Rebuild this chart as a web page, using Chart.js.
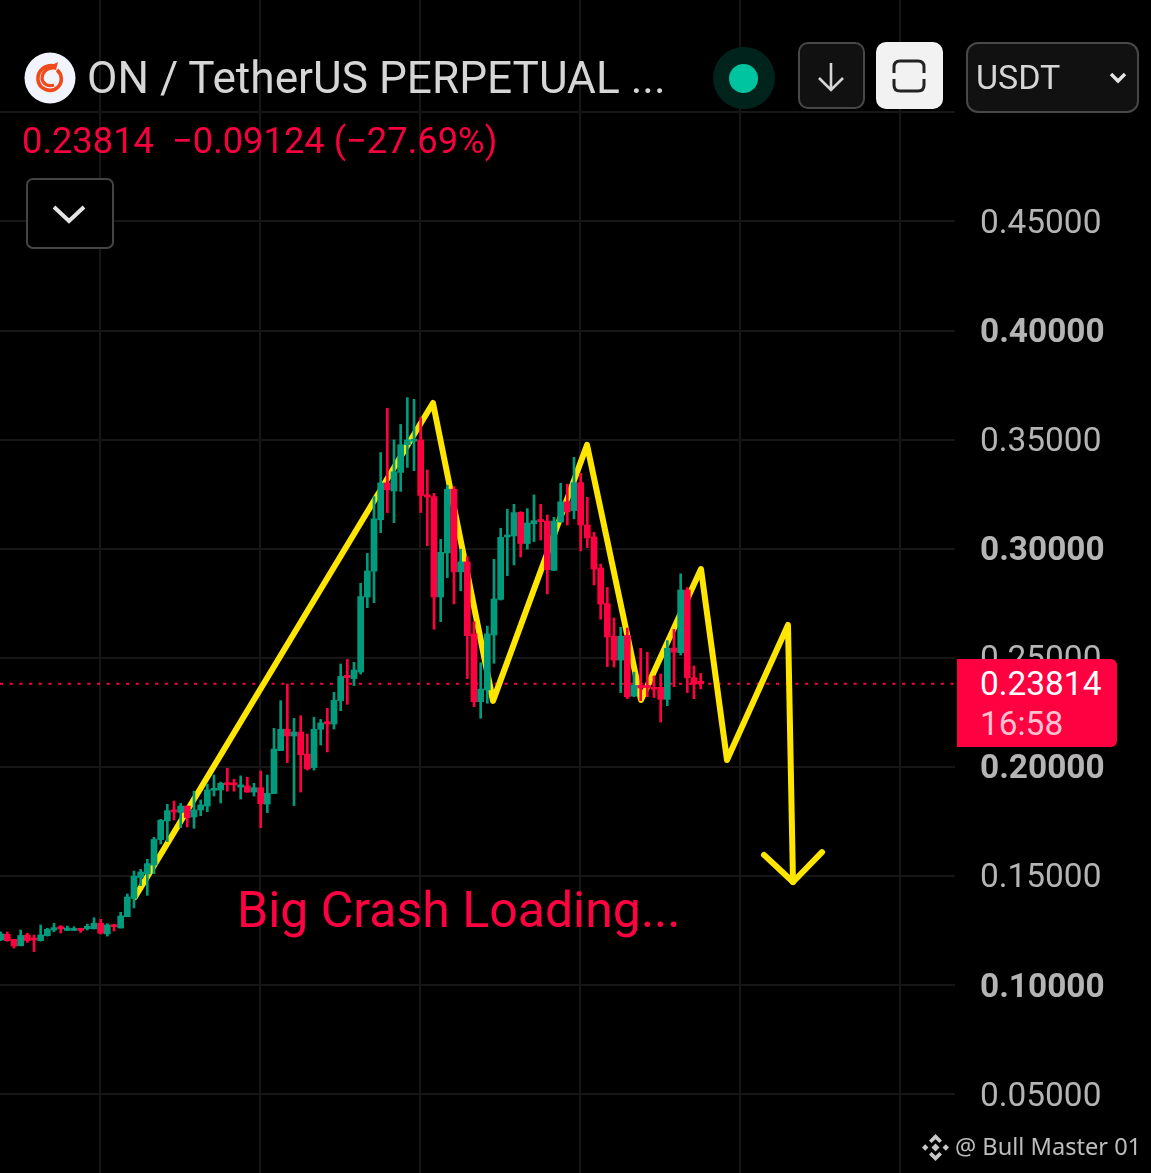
<!DOCTYPE html>
<html>
<head>
<meta charset="utf-8">
<title>ON / TetherUS PERPETUAL</title>
<script src="https://cdn.jsdelivr.net/npm/chart.js@4/dist/chart.umd.min.js"></script>
<style>
    html, body { margin: 0; padding: 0; background: #000; width: 1151px; height: 1173px; overflow: hidden; }
    body { position: relative; font-family: Roboto, sans-serif; }
    canvas { position: absolute; left: 0; top: 0; }
    .abs { position: absolute; white-space: pre; line-height: 1; }
    .box { position: absolute; box-sizing: border-box; }
</style>
</head>
<body>
<canvas id="candleChart" width="1151" height="1173"></canvas>

<svg class="box" style="left:24px;top:52px" width="52" height="52" viewBox="0 0 52 52">
    <circle cx="26" cy="26" r="25.5" fill="#f1f4fd"/>
    <path d="M31 14 C21 12 13 19 14 28 C15 37 27 42 34 35 C39 30 38 22 33 18" fill="none" stroke="#f04a1c" stroke-width="3.6"/>
    <path d="M31 16 C22 15 18 21 18 27 C19 32 24 35 30 33" fill="none" stroke="#f04a1c" stroke-width="3.2"/>
    <path d="M24 15 L34 10 L32 18 Z" fill="#f04a1c"/>
</svg>
<div class="abs" id="title" style="left:87px;top:56px;font-size:44.2px;color:#d6d6d6">ON / TetherUS PERPETUAL ...</div>
<div class="abs" id="change" style="left:22px;top:123px;font-size:36.3px;color:#f7003e">0.23814  −0.09124 (−27.69%)</div>

<div class="box" style="left:26px;top:178px;width:88px;height:71px;border:2px solid #444;border-radius:7px;background:#000"></div>
<svg class="box" style="left:50px;top:200px" width="40" height="28" viewBox="0 0 40 28">
    <path d="M4 7 L19 21 L34 7" fill="none" stroke="#e4e4e4" stroke-width="4"/>
</svg>

<div class="box" style="left:713px;top:47px;width:62px;height:62px;border-radius:50%;background:#00241c"></div>
<div class="box" style="left:729px;top:64px;width:29px;height:29px;border-radius:50%;background:#00c4a0"></div>

<div class="box" style="left:798px;top:42px;width:67px;height:67px;border:2px solid #484848;border-radius:10px;background:#111"></div>
<svg class="box" style="left:815px;top:60px" width="32" height="34" viewBox="0 0 32 34">
    <path d="M16 3 L16 30 M4 18 L16 30 L28 18" fill="none" stroke="#d6d6d6" stroke-width="2.6"/>
</svg>
<div class="box" style="left:876px;top:42px;width:67px;height:67px;border-radius:10px;background:#f2f2f2"></div>
<svg class="box" style="left:891px;top:58px" width="36" height="36" viewBox="0 0 36 36">
    <path d="M3 15 L3 9 Q3 3 9 3 L27 3 Q33 3 33 9 L33 15 M3 21 L3 27 Q3 33 9 33 L27 33 Q33 33 33 27 L33 21" fill="none" stroke="#222" stroke-width="3"/>
</svg>

<div class="box" style="left:966px;top:42px;width:173px;height:71px;border:2px solid #484848;border-radius:12px;background:#111"></div>
<div class="abs" id="quote" style="left:976px;top:60px;font-size:34px;color:#d6d6d6">USDT</div>
<svg class="box" style="left:1108px;top:70px" width="20" height="16" viewBox="0 0 20 16">
    <path d="M3 4 L10 11 L17 4" fill="none" stroke="#e4e4e4" stroke-width="3.4"/>
</svg>

<div class="box" style="left:957px;top:659px;width:160px;height:88px;background:#ff0040;border-radius:0 6px 6px 0"></div>
<div class="abs" style="left:980px;top:667px;font-size:33.4px;color:#fff">0.23814</div>
<div class="abs" style="left:980px;top:707px;font-size:33.4px;color:#ffc2d0">16:58</div>

<div class="abs" id="note" style="left:237px;top:885px;font-size:50px;color:#ff0040">Big Crash Loading...</div>

<svg class="box" style="left:921px;top:1133px" width="29" height="29" viewBox="0 0 29 29">
    <g fill="#c8c8c8">
        <path d="M14.5 1 L21 7.5 L18.4 10 L14.5 6.2 L10.6 10 L8 7.5 Z"/>
        <path d="M14.5 28 L21 21.5 L18.4 19 L14.5 22.8 L10.6 19 L8 21.5 Z"/>
        <path d="M1 14.5 L4.2 11.3 L7.4 14.5 L4.2 17.7 Z"/>
        <path d="M21.6 14.5 L24.8 11.3 L28 14.5 L24.8 17.7 Z"/>
        <path d="M14.5 10.5 L18.5 14.5 L14.5 18.5 L10.5 14.5 Z"/>
    </g>
</svg>
<div class="abs" id="mark" style="left:955px;top:1135px;font-family:'Noto Sans';font-size:23.6px;color:#bdbdbd">@ Bull Master 01</div>

<script>
const opens = [
    .1207, .1233, .1210, .1181, .1230, .1213, .1204, .1227, .1253, .1268,
    .1251, .1251, .1261, .1259, .1258, .1284, .1235, .1277, .1262, .1314,
    .1398, .1494, .1510, .1551, .1667, .1753, .1801, .1792, .1821, .1771,
    .1803, .1821, .1893, .1895, .1928, .1927, .1908, .1913, .1885, .1905,
    .1830, .1878, .2075, .2173, .2142, .2160, .2059, .1997, .2173, .2208,
    .2197, .2304, .2420, .2405, .2435, .2779, .2897, .3133, .3302, .3265,
    .3350, .3477, .3493, .3499, .3247, .3239, .2779, .2981, .3273, .2894,
    .2940, .2610, .2299, .2353, .2605, .2768, .3054, .3059, .3167, .3024,
    .3115, .3134, .3127, .2901, .3123, .3215, .3175, .3303, .3109, .3054,
    .2912, .2749, .2600, .2490, .2603, .2325, .2374, .2374, .2362, .2365,
    .2310, .2545, .2524, .2811, .2409, .2393
]
const highs = [
    .1245, .1244, .1210, .1253, .1238, .1230, .1276, .1261, .1284, .1273,
    .1271, .1268, .1261, .1280, .1309, .1302, .1282, .1280, .1334, .1418,
    .1523, .1531, .1577, .1678, .1760, .1829, .1844, .1833, .1821, .1889,
    .1849, .1922, .1963, .1931, .1994, .1944, .1959, .1953, .1925, .1982,
    .1963, .2177, .2304, .2380, .2223, .2235, .2151, .2228, .2218, .2269,
    .2342, .2472, .2493, .2480, .2842, .2979, .3239, .3441, .3644, .3499,
    .3570, .3693, .3685, .3601, .3361, .3254, .3043, .3291, .3285, .2998,
    .2964, .2666, .2478, .2646, .2952, .3094, .3181, .3204, .3170, .3184,
    .3247, .3204, .3155, .3144, .3300, .3296, .3419, .3346, .3236, .3075,
    .2930, .2823, .2683, .2640, .2637, .2435, .2544, .2526, .2417, .2426,
    .2579, .2631, .2885, .2822, .2463, .2429
]
const lows = [
    .1204, .1201, .1170, .1180, .1196, .1154, .1202, .1225, .1245, .1239,
    .1250, .1250, .1242, .1253, .1258, .1235, .1225, .1248, .1262, .1314,
    .1354, .1456, .1412, .1511, .1647, .1658, .1757, .1722, .1725, .1719,
    .1777, .1795, .1867, .1835, .1889, .1889, .1853, .1884, .1867, .1722,
    .1791, .1878, .2075, .2020, .1823, .1885, .1986, .1986, .2101, .2069,
    .2174, .2258, .2287, .2373, .2426, .2730, .2753, .3074, .3166, .3120,
    .3263, .3373, .3358, .3166, .3014, .2631, .2666, .2868, .2747, .2808,
    .2405, .2276, .2223, .2292, .2475, .2765, .2877, .2926, .2962, .2999,
    .3033, .3040, .2793, .2900, .3123, .3109, .3137, .2990, .3005, .2834,
    .2677, .2460, .2458, .2341, .2313, .2322, .2304, .2322, .2318, .2206,
    .2281, .2368, .2513, .2341, .2313, .2358
]
const closes = [
    .1235, .1204, .1180, .1228, .1204, .1207, .1230, .1256, .1264, .1258,
    .1262, .1259, .1251, .1270, .1284, .1238, .1276, .1268, .1317, .1404,
    .1500, .1519, .1557, .1668, .1756, .1800, .1794, .1821, .1768, .1803,
    .1826, .1895, .1902, .1925, .1919, .1918, .1918, .1885, .1905, .1832,
    .1879, .2082, .2173, .2142, .2160, .2056, .1991, .2173, .2202, .2197,
    .2305, .2415, .2409, .2444, .2781, .2898, .3137, .3302, .3270, .3353,
    .3477, .3499, .3502, .3244, .3237, .2779, .2984, .3273, .2894, .2940,
    .2602, .2299, .2357, .2610, .2770, .3052, .3063, .3166, .3024, .3118,
    .3129, .3124, .2904, .3127, .3215, .3169, .3303, .3109, .3050, .2907,
    .2747, .2596, .2490, .2599, .2322, .2374, .2362, .2364, .2356, .2310,
    .2544, .2526, .2811, .2409, .2380, .2381
]

// hand drawn zigzag on top of the price, x is in candle numbers
const zigzagX = [20.15, 64.85, 73.85, 87.95, 96.05, 105.05, 108.95, 118.1, 118.85]
const zigzagY = [.1404, .3668, .2303, .3476, .2307, .2907, .2032, .2651, .1473]
const arrowX = [114.5, 118.85, 123.2]
const arrowY = [.1597, .1473, .1610]

const lastPrice = 0.23814

const yTicks = [.05, .10, .15, .20, .25, .30, .35, .40, .45, .50]
const yLabels = ['0.05000', '0.10000', '0.15000', '0.20000', '0.25000', '0.30000', '0.35000', '0.40000', '0.45000', '']
const yBold = ['0.10000', '0.20000', '0.30000', '0.40000']
const xTicks = [14.9, 38.9, 62.9, 86.9, 110.9, 134.9]

const RED = '#ff0040'
const GREEN = '#009a7d'
const YELLOW = '#ffe600'
const GRID = '#161616'

const xMin = -0.1
const xMax = 143.15

const candleColors = closes.map((c, i) => (c < opens[i] ? RED : GREEN))

new Chart(document.getElementById('candleChart'), {
    type: 'bar',

    data: {
        datasets: [
            {
                label: 'Body',
                data: closes.map((c, i) => ({ x: i, y: [opens[i], c] })),
                backgroundColor: candleColors,
                grouped: false,
                barThickness: 6,
                minBarLength: 2,
                order: 1
            },
            {
                label: 'Wick',
                data: highs.map((h, i) => ({ x: i, y: [lows[i], h] })),
                backgroundColor: candleColors,
                grouped: false,
                barThickness: 2,
                order: 2
            },
            {
                type: 'line',
                label: 'Zigzag',
                data: zigzagX.map((x, i) => ({ x: x, y: zigzagY[i] })),
                borderColor: YELLOW,
                borderWidth: 6,
                borderJoinStyle: 'round',
                borderCapStyle: 'round',
                pointRadius: 0,
                order: 3
            },
            {
                type: 'line',
                label: 'Arrow',
                data: arrowX.map((x, i) => ({ x: x, y: arrowY[i] })),
                borderColor: YELLOW,
                borderWidth: 6,
                borderJoinStyle: 'round',
                borderCapStyle: 'round',
                pointRadius: 0,
                order: 3
            },
            {
                type: 'line',
                label: 'Last price',
                data: [{ x: xMin, y: lastPrice }, { x: xMax, y: lastPrice }],
                borderColor: RED,
                borderWidth: 2,
                borderDash: [3, 6.7],
                pointRadius: 0,
                order: 4
            }
        ]
    },

    options: {
        responsive: false,
        animation: false,
        events: [],
        layout: { padding: 0 },

        plugins: {
            legend: { display: false },
            tooltip: { enabled: false }
        },

        scales: {
            x: {
                type: 'linear',
                offset: false,
                min: xMin,
                max: xMax,
                border: { display: false },
                grid: { color: GRID, lineWidth: 2, drawTicks: false, offset: false },
                ticks: { display: false },
                afterBuildTicks: (scale) => {
                    scale.ticks = xTicks.map((v) => ({ value: v }))
                },
                afterFit: (scale) => {
                    scale.height = 0
                    scale.paddingLeft = 0
                    scale.paddingRight = 0
                }
            },
            y: {
                position: 'right',
                min: 0.01393,
                max: 0.5515,
                border: { display: false },
                grid: { color: GRID, lineWidth: 2, drawTicks: false },
                afterBuildTicks: (scale) => {
                    scale.ticks = yTicks.map((v) => ({ value: v }))
                },
                afterFit: (scale) => {
                    scale.width = 196
                    scale.paddingTop = 0
                    scale.paddingBottom = 0
                },
                ticks: {
                    autoSkip: false,
                    padding: 25,
                    labelOffset: 3,
                    color: '#b4b4b4',
                    callback: (value, index) => yLabels[index],
                    font: (ctx) => ({
                        family: 'Roboto',
                        size: 33.4,
                        weight: yBold.includes(yLabels[ctx.index]) ? 'bold' : 'normal'
                    })
                }
            }
        }
    }
})
</script>
</body>
</html>
